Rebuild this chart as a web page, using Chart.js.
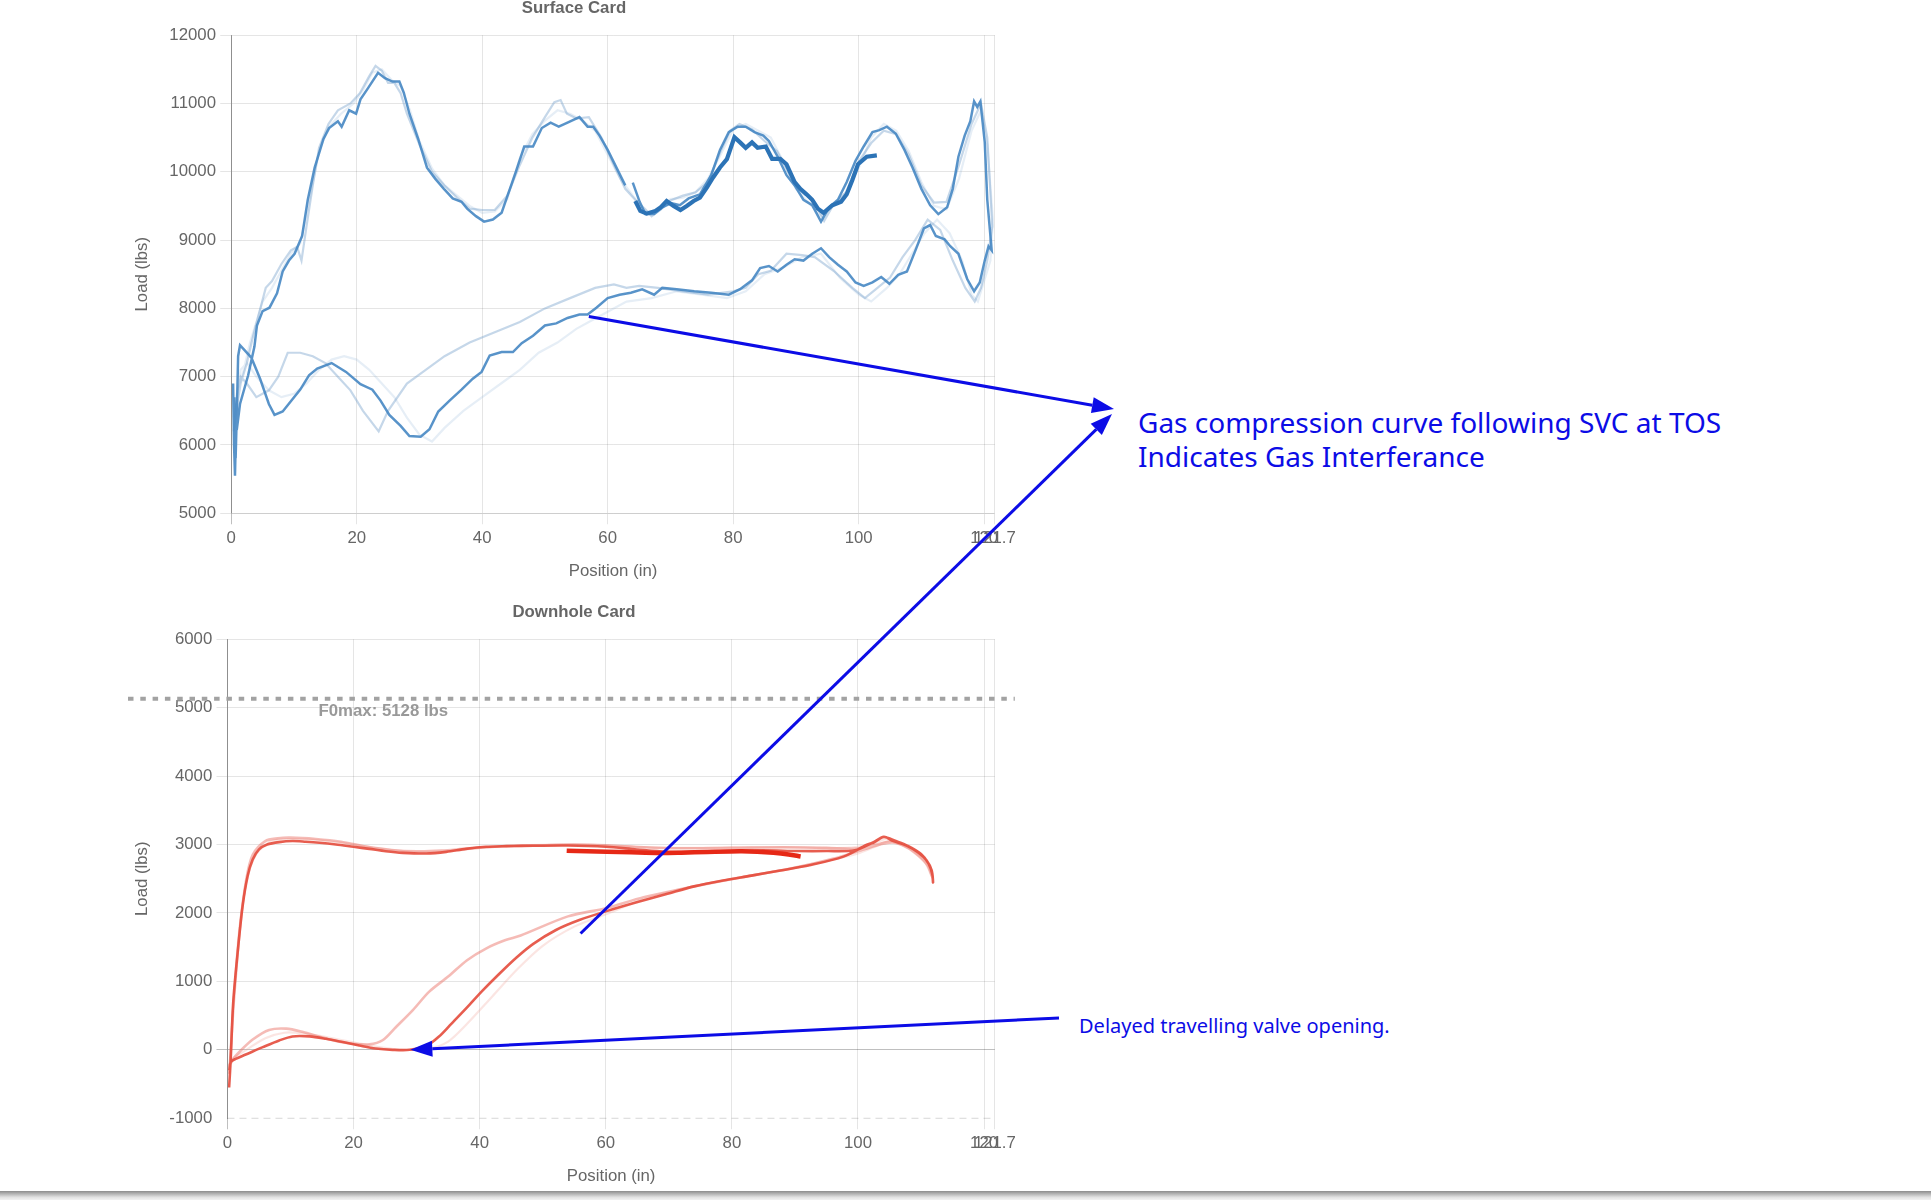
<!DOCTYPE html>
<html>
<head>
<meta charset="utf-8">
<title>Surface Card / Downhole Card</title>
<script src="https://cdn.jsdelivr.net/npm/chart.js@4.4.0/dist/chart.umd.min.js"></script>
<style>
  html, body { margin: 0; padding: 0; background: #fff; width: 1931px; height: 1200px; overflow: hidden; }
  canvas.card { position: absolute; left: 128px; }
  #surfaceCard { top: -2px; }
  #downholeCard { top: 602px; }
  #arrows { position: absolute; left: 0; top: 0; pointer-events: none; }
  .note { position: absolute; color: #0c0ce6; font-family: 'Noto Sans', 'Open Sans', sans-serif; white-space: nowrap; }
  #gasNote { left: 1138px; top: 405px; font-size: 28px; line-height: 34px; }
  #valveNote { left: 1079px; top: 1013px; font-size: 20px; line-height: 26px; }
  #bottomEdge { position: absolute; left: 0; top: 1191px; width: 1931px; height: 9px;
    background: linear-gradient(to bottom, #8c8c8c 0, #b8b8b8 35%, #e2e2e2 70%, #f2f2f2 100%); }
</style>
</head>
<body>
<canvas id="surfaceCard" class="card" width="892" height="587"></canvas>
<canvas id="downholeCard" class="card" width="892" height="588"></canvas>
<div id="gasNote" class="note">Gas compression curve following SVC at TOS<br>Indicates Gas Interferance</div>
<div id="valveNote" class="note">Delayed travelling valve opening.</div>
<div id="bottomEdge"></div>
<svg id="arrows" width="1931" height="1200"></svg>
<script>
// ---- axes ----
const positionMax = 121.7;
const positionTicks = [0, 20, 40, 60, 80, 100, 120, 121.7];
const surfaceLoadRange = [5000, 12000];
const downholeLoadRange = [-1000, 6000];
const f0max = 5128;

// ---- surface card strokes: [position (in), load (lbs)] ----
const surfaceMain = [
  [0.3,6900],[0.45,6000],[0.6,5550],[0.75,6200],[0.9,6230],[1.4,6600],[2.7,7020],[3.7,7440],[4.1,7750],[5.0,7960],
  [6.1,8010],[7.3,8220],[8.2,8540],[9.2,8700],[10.1,8800],[11.3,9060],[12.2,9590],[13.3,10060],[14.7,10480],[15.6,10640],
  [17.0,10740],[17.6,10660],[18.8,10900],[19.9,10850],[20.6,11060],[21.7,11210],[23.4,11450],[24.5,11370],[25.7,11320],
  [26.8,11320],[27.5,11160],[28.4,10850],[29.8,10480],[31.2,10060],[32.5,9900],[33.9,9750],[35.3,9610],[36.7,9560],
  [37.6,9460],[39.0,9350],[40.3,9270],[41.7,9300],[43.1,9400],[44.0,9640],[45.4,10010],[46.7,10370],[48.1,10370],
  [49.5,10640],[50.9,10720],[52.2,10660],[53.6,10720],[55.5,10800],[56.8,10660],[57.7,10660],[58.7,10530],[60.0,10320],
  [61.4,10060],[62.8,9800],[63.4,null],[64.0,9840],[65.1,9560],[66.0,9380],[67.4,9380],[68.7,9480],[70.1,9540],[71.5,9510],
  [72.9,9610],[74.7,9670],[76.5,9950],[77.9,10320],[79.3,10580],[80.7,10660],[82.0,10660],[83.4,10580],[84.8,10530],
  [85.7,10450],[87.1,10220],[88.5,9950],[89.8,9800],[91.2,9590],[92.6,9510],[94.0,9270],[95.3,9480],[96.7,9590],
  [98.1,9850],[99.5,10160],[100.8,10370],[102.2,10580],[103.3,10610],[104.5,10660],[105.9,10560],[107.3,10320],
  [108.6,10060],[110.0,9750],[111.4,9510],[112.7,9380],[114.1,9480],[115.0,9750],[115.9,10220],[116.9,10530],
  [117.8,10740],[118.4,11030],[118.9,10950],[119.4,11030],[120.1,10430],[120.5,9590],[121.0,9060],[121.2,8850],
  [120.7,8910],[120.1,8700],[119.3,8380],[118.4,8250],[117.3,8430],[115.9,8800],[114.6,8910],[113.7,9010],[112.3,9060],
  [111.4,9220],[110.4,9170],[109.1,8860],[107.7,8540],[106.3,8490],[104.9,8360],[103.6,8460],[102.2,8380],[100.8,8330],
  [99.5,8380],[98.1,8540],[96.7,8640],[95.3,8750],[94.0,8880],[92.6,8800],[91.2,8700],[89.8,8720],[88.5,8640],
  [87.1,8540],[85.7,8620],[84.3,8590],[83.0,8410],[81.1,8280],[79.3,8200],[76.5,8230],[73.8,8250],[71.0,8280],
  [68.7,8300],[67.4,8200],[65.5,8280],[63.7,8230],[61.9,8200],[60.0,8150],[58.2,8010],[56.8,7910],[55.5,7910],
  [53.6,7860],[51.8,7780],[50.0,7750],[48.1,7600],[46.3,7490],[44.9,7360],[43.1,7360],[41.2,7310],[39.9,7070],
  [38.5,6970],[36.7,6810],[34.8,6650],[33.0,6490],[31.6,6230],[30.2,6120],[28.4,6130],[27.0,6280],[25.2,6440],
  [23.8,6650],[22.5,6810],[20.6,6890],[18.3,7070],[16.0,7200],[13.7,7120],[12.4,7020],[11.0,6810],[9.6,6650],
  [8.2,6490],[6.9,6440],[6.0,6600],[4.6,6970],[3.2,7280],[1.4,7460],[1.1,7300],[0.9,6500],[0.7,5800],[0.5,6700]
];
const surfacePrev = [
  [0.4,6200],[0.8,6500],[1.5,6900],[2.5,7200],[3.5,7600],[4.5,7950],[5.5,8300],[6.5,8400],[8.0,8650],[9.5,8850],
  [10.5,8900],[11.2,8700],[12.0,9200],[13.0,9800],[14.0,10350],[15.5,10700],[17.0,10900],[19.0,11000],[20.5,11150],
  [22.0,11400],[23.0,11550],[24.0,11480],[25.0,11300],[26.0,11300],[27.0,11150],[28.0,10850],[30.0,10400],[32.0,10000],
  [34.0,9800],[36.0,9620],[38.0,9460],[40.0,9440],[42.0,9440],[44.0,9650],[46.0,10100],[48.0,10500],[50.0,10800],
  [51.5,11020],[52.5,11050],[53.5,10850],[55.0,10780],[57.0,10800],[59.0,10500],[61.0,10100],[62.8,9750],[64.5,9580],
  [66.0,9450],[67.0,9350],[68.5,9450],[70.0,9580],[72.0,9650],[74.0,9700],[76.0,9850],[78.0,10300],[79.5,10600],
  [81.0,10700],[83.0,10620],[85.0,10450],[87.0,10300],[89.0,9950],[91.0,9700],[93.0,9550],[94.5,9280],[96.0,9520],
  [98.0,9700],[100.0,10150],[102.0,10420],[104.0,10600],[106.0,10550],[108.0,10250],[110.0,9800],[112.0,9550],
  [114.0,9560],[116.0,10100],[118.0,10700],[119.5,11000],[120.5,10500],[121.3,9200],
  [120.5,8700],[119.5,8300],[118.5,8100],[117.0,8300],[115.0,8700],[113.0,9150],[111.0,9300],[109.0,9000],[107.0,8750],
  [105.0,8450],[103.0,8300],[101.0,8150],[99.0,8300],[96.0,8550],[93.0,8750],[91.0,8780],[88.5,8800],[86.0,8550],
  [84.0,8500],[82.0,8300],[80.0,8250],[76.0,8200],[72.0,8250],[68.0,8300],[65.0,8330],[63.0,8300],[61.0,8350],
  [58.0,8300],[54.0,8150],[50.0,8000],[46.0,7800],[42.0,7650],[38.0,7500],[34.0,7300],[31.0,7100],[28.0,6900],
  [25.0,6500],[23.5,6200],[21.0,6500],[19.0,6800],[17.0,7000],[15.0,7200],[13.0,7300],[11.0,7350],[9.0,7350],
  [7.5,7000],[6.0,6800],[4.0,6700],[2.5,6900],[1.5,7000],[0.8,6600],[0.4,6200]
];
const surfaceOld = [
  [0.4,6400],[1.0,6800],[2.0,7100],[3.0,7500],[4.0,7800],[5.0,8100],[6.5,8300],[8.0,8550],[9.5,8800],[11.0,8950],
  [12.5,9600],[14.0,10300],[15.5,10650],[17.5,10850],[19.5,11000],[21.0,11200],[22.5,11450],[24.0,11500],[25.5,11350],
  [27.0,11250],[28.5,10900],[30.0,10450],[32.0,10050],[34.0,9800],[36.0,9650],[38.0,9500],[40.0,9400],[42.0,9420],
  [44.0,9600],[46.0,10200],[48.0,10550],[50.0,10750],[52.0,10900],[54.0,10850],[56.0,10750],[58.0,10600],[60.0,10250],
  [62.0,9900],[64.0,9650],[66.0,9420],[68.0,9420],[70.0,9600],[72.0,9620],[74.0,9700],[76.0,9900],[78.0,10250],
  [80.0,10620],[82.0,10700],[84.0,10600],[86.0,10500],[88.0,10150],[90.0,9750],[92.0,9550],[94.0,9350],[96.0,9500],
  [98.0,9700],[100.0,10050],[102.0,10500],[104.0,10700],[106.0,10600],[108.0,10300],[110.0,9850],[112.0,9500],
  [114.0,9450],[116.0,9900],[118.0,10600],[119.5,10900],[120.5,10400],[121.4,9300],
  [121.0,8700],[120.0,8400],[119.0,8100],[118.0,8200],[116.5,8700],[114.5,9100],[112.5,9300],[110.5,9100],[108.5,8800],
  [106.5,8500],[104.5,8300],[102.0,8100],[100.0,8200],[97.0,8450],[94.0,8800],[91.0,8750],[88.0,8600],[85.0,8500],
  [82.0,8250],[79.0,8150],[75.0,8200],[71.0,8250],[67.0,8150],[63.0,8100],[60.0,7950],[57.0,7800],[55.0,7700],
  [52.0,7500],[49.0,7350],[46.0,7100],[43.0,6900],[40.0,6700],[37.0,6500],[34.0,6250],[32.0,6050],[30.0,6150],
  [28.0,6400],[26.0,6700],[24.0,6900],[22.0,7100],[20.0,7250],[18.0,7300],[16.0,7250],[14.0,7100],[12.0,6900],
  [10.0,6750],[8.0,6700],[6.0,6800],[4.0,7000],[2.5,7200],[1.5,7100],[0.8,6700],[0.4,6400]
];
const surfaceCurrent = [
  [64.4,9573],[65.2,9427],[66.2,9387],[67.6,9427],[68.4,9475],[69.4,9573],[70.5,9500],[71.6,9440],[72.6,9500],
  [73.7,9573],[74.7,9622],[75.8,9769],[76.8,9916],[77.9,10063],[79.0,10185],[80.2,10505],[81.1,10430],[82.0,10350],
  [83.0,10430],[83.9,10350],[85.2,10370],[86.2,10190],[87.5,10190],[88.5,10110],[89.8,9850],[90.7,9750],[91.7,9670],
  [92.6,9590],[93.5,9460],[94.4,9400],[95.8,9510],[97.2,9560],[98.1,9670],[99.0,9880],[99.9,10110],[101.3,10220],[102.9,10240]
];

// ---- downhole card strokes ----
const downholeMain = [
  [0.26,-550],[0.5,-160],[0.9,680],[1.6,1410],[2.4,2100],[3.2,2540],[4.0,2780],[5.0,2930],[6.3,3000],[8.2,3035],
  [10.3,3050],[12.4,3040],[14.6,3025],[17.2,3000],[20.0,2966],[22.5,2936],[25.1,2902],[27.8,2878],[31.5,2868],
  [34.7,2892],[37.8,2936],[41.0,2966],[44.2,2976],[46.7,2980],[54.0,2985],[60.0,2968],[64.9,2927],[69.5,2893],
  [74.0,2893],[79.5,2904],[85.0,2916],[90.4,2904],[95.0,2904],[99.5,2916],[102.3,3026],[104.1,3113],[105.5,3055],
  [107.7,2985],[109.6,2881],[110.9,2765],[111.7,2620],[111.9,2446],
  [111.8,2560],[111.2,2720],[110.0,2860],[108.0,2975],[106.0,3050],[104.1,3110],[102.5,3030],[101.4,2997],[97.7,2823],
  [92.3,2696],[87.7,2620],[83.1,2545],[78.6,2475],[74.0,2388],[69.5,2272],[64.9,2156],[60.0,2023],[55.8,1896],
  [52.1,1751],[48.5,1548],[45.8,1345],[43.0,1100],[40.3,850],[38.0,620],[35.5,380],[33.5,190],[31.6,60],[28.9,0],
  [26.2,0],[23.5,20],[20.9,64],[18.3,113],[15.6,161],[13.0,196],[10.3,196],[8.2,137],[5.6,39],[2.9,-69],[1.3,-132],
  [0.5,-181],[0.3,-300]
];
const downholePrev = [
  [0.3,-350],[0.6,100],[1.0,700],[2.0,1800],[3.0,2500],[4.0,2850],[6.0,3050],[8.0,3090],[10.0,3100],[14.0,3080],
  [18.0,3040],[22.0,2970],[26.0,2920],[30.0,2900],[34.0,2910],[38.0,2940],[44.0,2975],[50.0,2990],[55.0,3000],
  [60.0,2990],[66.0,2960],[72.0,2945],[80.0,2950],[88.0,2960],[95.0,2950],[100.0,2940],[103.0,3000],[105.0,3040],
  [107.0,2990],[109.0,2880],[111.0,2700],[111.8,2520],
  [111.5,2650],[110.0,2850],[108.0,2960],[105.5,3030],[103.5,3000],[101.0,2930],[96.0,2790],[90.0,2660],[84.0,2560],
  [78.0,2460],[72.0,2350],[66.0,2230],[60.0,2070],[54.0,1950],[46.5,1670],[44.0,1600],[41.0,1480],[38.0,1310],
  [35.0,1070],[32.0,850],[29.4,580],[26.7,330],[24.6,140],[22.5,80],[19.8,90],[17.2,130],[14.6,190],[12.0,260],
  [9.3,310],[6.6,290],[4.0,150],[2.0,-20],[1.0,-120],[0.5,-200]
];
const downholeOld = [
  [0.3,-300],[0.8,500],[1.8,1700],[3.0,2450],[4.5,2850],[7.0,3050],[10.0,3080],[15.0,3060],[20.0,3000],[25.0,2930],
  [30.0,2890],[35.0,2900],[40.0,2950],[48.0,2990],[56.0,3000],[64.0,2970],[72.0,2950],[80.0,2960],[90.0,2960],
  [98.0,2950],[102.0,3000],[104.5,3080],[106.5,3020],[108.5,2920],[110.5,2760],[111.6,2550],
  [110.5,2800],[108.0,2950],[105.0,3050],[103.0,2980],[100.0,2870],[95.0,2760],[88.0,2630],[80.0,2500],[72.0,2350],
  [66.0,2200],[60.0,1980],[55.0,1800],[50.0,1520],[46.0,1180],[42.0,780],[38.0,380],[35.0,120],[32.0,20],[28.0,0],
  [24.0,40],[20.0,110],[16.0,180],[12.0,240],[9.0,250],[6.0,170],[3.0,0],[1.0,-120],[0.4,-200]
];
const downholeCurrent = [
  [53.8,2910],[57.0,2900],[60.2,2895],[64.0,2885],[68.6,2875],[72.0,2880],[76.1,2890],[81.3,2900],[84.0,2895],
  [86.6,2880],[89.0,2855],[90.9,2825]
];

// ---- styling ----
const FONT = "'Liberation Sans', Arial, Helvetica, sans-serif";
const gridColor = 'rgba(0,0,0,0.1)';
const zeroColor = 'rgba(0,0,0,0.25)';
const noteBlue = '#0c0ce6';

Chart.defaults.font.family = FONT;
Chart.defaults.font.size = 16.8;
Chart.defaults.color = '#666';
Chart.defaults.animation = false;

function toPoints(pairs) {
  return pairs.map(p => ({ x: p[0], y: p[1] }));
}

function stroke(pairs, color, width, tension) {
  return {
    data: toPoints(pairs),
    showLine: true,
    borderColor: color,
    backgroundColor: color,
    borderWidth: width,
    pointRadius: 0,
    tension: tension || 0,
    spanGaps: false
  };
}

// dashed base line + dotted F0max line (spans the canvas like the original)
const f0maxLine = {
  id: 'f0maxLine',
  beforeDatasetsDraw(chart, args, opts) {
    if (!opts.value) return;
    const a = chart.chartArea;
    const ctx = chart.ctx;
    ctx.save();
    ctx.setLineDash([7, 5]);
    ctx.lineWidth = 1;
    ctx.strokeStyle = 'rgba(0,0,0,0.16)';
    ctx.beginPath();
    ctx.moveTo(a.left, a.bottom);
    ctx.lineTo(a.right, a.bottom);
    ctx.stroke();
    ctx.restore();
  },
  afterDraw(chart, args, opts) {
    if (!opts.value) return;
    const y = chart.scales.y.getPixelForValue(opts.value);
    const ctx = chart.ctx;
    ctx.save();
    ctx.setLineDash([5.5, 6.8]);
    ctx.lineWidth = 4;
    ctx.strokeStyle = '#a2a2a2';
    ctx.beginPath();
    ctx.moveTo(0, y);
    ctx.lineTo(chart.chartArea.right + 20, y);
    ctx.stroke();
    ctx.setLineDash([]);
    ctx.fillStyle = '#999';
    ctx.font = 'bold 16.8px ' + FONT;
    ctx.textBaseline = 'middle';
    ctx.fillText(opts.label, chart.chartArea.left + 91, y + 13);
    ctx.restore();
  }
};

function cardOptions(title, range, downhole) {
  return {
    responsive: false,
    plugins: {
      legend: { display: false },
      tooltip: { enabled: false },
      title: {
        display: true, text: title, color: '#666',
        font: { size: 16.8, weight: 'bold' },
        padding: { top: 0, bottom: 17 }
      },
      f0maxLine: downhole ? { value: f0max, label: 'F0max: ' + f0max + ' lbs' } : {}
    },
    scales: {
      x: {
        type: 'linear', min: 0, max: positionMax,
        afterBuildTicks: s => { s.ticks = positionTicks.map(v => ({ value: v })); },
        grid: {
          color: c => (c.tick && c.tick.value === 0) ? zeroColor : gridColor,
          tickLength: 11
        },
        border: downhole ? { display: false } : { color: gridColor },
        ticks: { padding: 4.2, maxRotation: 0, autoSkip: false, callback: v => String(v) },
        title: { display: true, text: 'Position (in)', padding: { top: 8, bottom: 4 } }
      },
      y: {
        min: range[0], max: range[1],
        grid: {
          color: c => {
            if (!c.tick) return gridColor;
            if (c.tick.value === 0) return zeroColor;
            if (downhole && c.tick.value === range[0]) return 'rgba(0,0,0,0)';
            return gridColor;
          },
          tickLength: 11
        },
        border: { color: zeroColor },
        ticks: { stepSize: 1000, padding: 4.2, callback: v => String(v) },
        title: { display: true, text: 'Load (lbs)', padding: { top: 4, bottom: 13 } }
      }
    }
  };
}

const surfaceChart = new Chart(document.getElementById('surfaceCard'), {
  type: 'scatter',
  data: {
    datasets: [
      stroke(surfaceCurrent, 'rgb(44,115,182)', 4.2),
      stroke(surfaceMain, 'rgba(70,135,195,0.9)', 2.5),
      stroke(surfacePrev, 'rgba(110,155,200,0.4)', 2.2),
      stroke(surfaceOld, 'rgba(130,170,210,0.2)', 2.2)
    ]
  },
  options: cardOptions('Surface Card', surfaceLoadRange, false)
});

const downholeChart = new Chart(document.getElementById('downholeCard'), {
  type: 'scatter',
  data: {
    datasets: [
      stroke(downholeCurrent, 'rgb(230,40,22)', 4.5, 0.3),
      stroke(downholeMain, 'rgba(228,75,60,0.9)', 2.6, 0.3),
      stroke(downholePrev, 'rgba(236,120,110,0.5)', 2.6, 0.3),
      stroke(downholeOld, 'rgba(240,150,140,0.25)', 2.2, 0.3)
    ]
  },
  options: cardOptions('Downhole Card', downholeLoadRange, true),
  plugins: [f0maxLine]
});

// ---- annotation arrows ----
function pagePoint(chart, x, y) {
  const c = chart.canvas;
  return [c.offsetLeft + chart.scales.x.getPixelForValue(x), c.offsetTop + chart.scales.y.getPixelForValue(y)];
}

function drawArrow(svg, from, to) {
  const ns = 'http://www.w3.org/2000/svg';
  const dx = to[0] - from[0], dy = to[1] - from[1];
  const len = Math.hypot(dx, dy), ux = dx / len, uy = dy / len;
  const headLen = 22, headHalf = 8;
  const bx = to[0] - ux * headLen, by = to[1] - uy * headLen;
  const line = document.createElementNS(ns, 'line');
  line.setAttribute('x1', from[0]); line.setAttribute('y1', from[1]);
  line.setAttribute('x2', bx); line.setAttribute('y2', by);
  line.setAttribute('stroke', noteBlue); line.setAttribute('stroke-width', 3);
  svg.appendChild(line);
  const head = document.createElementNS(ns, 'polygon');
  head.setAttribute('points', [
    to[0] + ',' + to[1],
    (bx - uy * headHalf) + ',' + (by + ux * headHalf),
    (bx + uy * headHalf) + ',' + (by - ux * headHalf)
  ].join(' '));
  head.setAttribute('fill', noteBlue);
  svg.appendChild(head);
}

const svg = document.getElementById('arrows');
drawArrow(svg, pagePoint(surfaceChart, 57, 7880), [1114, 409]);
drawArrow(svg, pagePoint(downholeChart, 56, 1700), [1112, 414]);
drawArrow(svg, [1059, 1018], pagePoint(downholeChart, 29, 0));
</script>
</body>
</html>
